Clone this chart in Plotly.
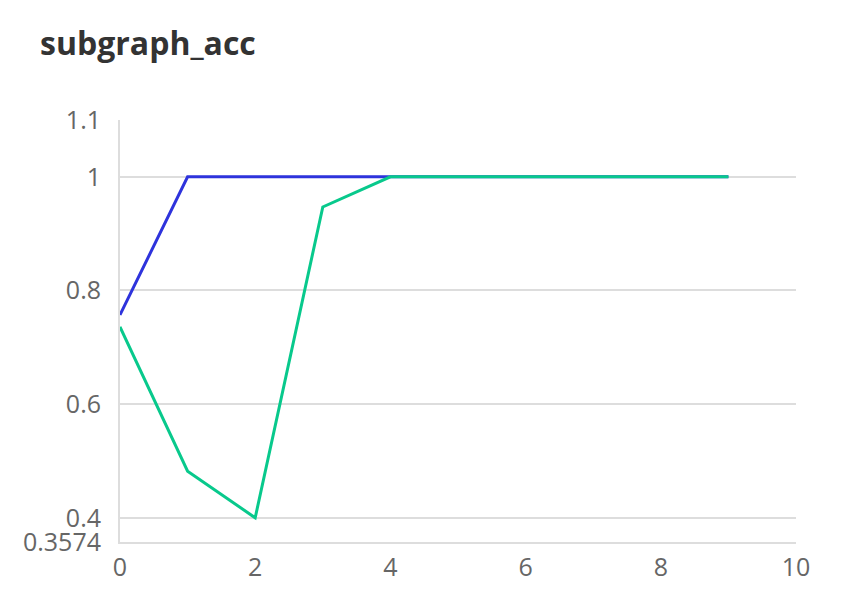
import plotly.graph_objects as go

steps = [0, 1, 2, 3, 4, 5, 6, 7, 8, 9]
blue_vals = [0.757, 1.0, 1.0, 1.0, 1.0, 1.0, 1.0, 1.0, 1.0, 1.0]
green_vals = [0.736, 0.482, 0.400, 0.947, 1.0, 1.0, 1.0, 1.0, 1.0, 1.0]
y_ticks = [0.3574, 0.4, 0.6, 0.8, 1.0, 1.1]
y_tick_text = ["0.3574", "0.4", "0.6", "0.8", "1", "1.1"]
x_ticks = [0, 2, 4, 6, 8, 10]

W, H = 856, 602
fig = go.Figure()
fig.add_trace(go.Scatter(x=steps, y=blue_vals, mode="lines",
                         line=dict(color="#2e33dc", width=3), showlegend=False))
fig.add_trace(go.Scatter(x=steps, y=green_vals, mode="lines",
                         line=dict(color="#08c98c", width=3), showlegend=False))

fig.update_layout(
    width=W, height=H,
    margin=dict(l=112, r=68, t=112, b=68, autoexpand=False),
    paper_bgcolor="white", plot_bgcolor="white",
    title=dict(text="<b>subgraph_acc</b>", x=32/W, xanchor="left", y=1-36/H, yanchor="middle",
               font=dict(family="Open Sans, Noto Sans, sans-serif", size=32, color="#333333")),
    font=dict(family="Open Sans, Noto Sans, sans-serif", size=25, color="#666666"),
)
fig.update_xaxes(range=[0, 10], tickvals=x_ticks, showgrid=False, zeroline=False,
                 showline=True, linecolor="#dddddd", linewidth=2, ticks="",
                 ticklabelstandoff=2,
                 tickfont=dict(size=25, color="#666666"))
fig.update_yaxes(range=[0.3574, 1.1], tickvals=y_ticks, ticktext=y_tick_text,
                 showgrid=True, gridcolor="#dddddd", gridwidth=1.5, zeroline=False,
                 showline=True, linecolor="#dddddd", linewidth=2, ticks="",
                 ticklabelstandoff=12,
                 tickfont=dict(size=25, color="#666666"))

fig.write_html("out.html")
